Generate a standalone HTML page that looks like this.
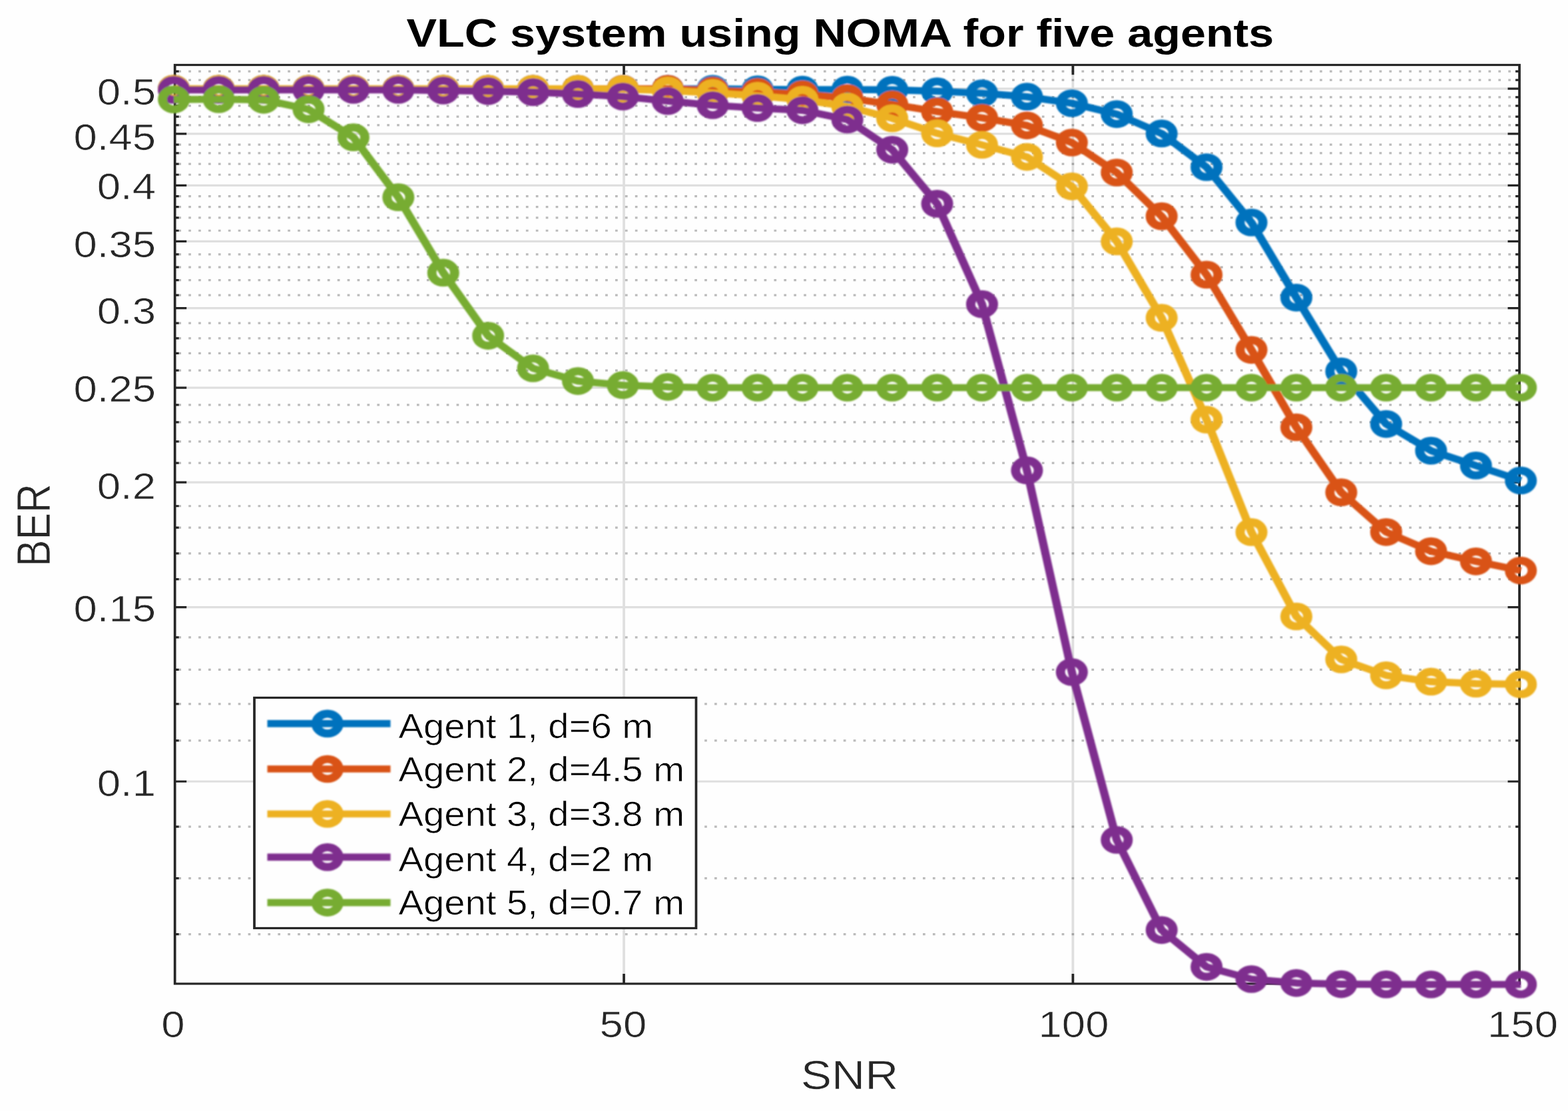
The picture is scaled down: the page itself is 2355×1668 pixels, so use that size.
<!DOCTYPE html>
<html lang="en"><head><meta charset="utf-8"><title>VLC system using NOMA for five agents</title>
<style>html,body{margin:0;padding:0;background:#fff;}body{width:2355px;height:1668px;overflow:hidden;}svg{display:block;}text{font-family:"Liberation Sans",Arial,Helvetica,sans-serif;}</style></head><body>
<svg width="2355" height="1668" viewBox="0 0 2355 1668">
<defs><filter id="b" x="0" y="0" width="2355" height="1668" filterUnits="userSpaceOnUse"><feGaussianBlur stdDeviation="1.0"/></filter></defs>
<rect width="2355" height="1668" fill="#fefefe"/>
<g transform="scale(3.7258 3.2305)">
<g stroke="#dfdfdf" stroke-width="1" fill="none">
<path d="M70.5 41.181H612.5"/>
<path d="M70.5 62.181H612.5"/>
<path d="M70.5 86.181H612.5"/>
<path d="M70.5 112.181H612.5"/>
<path d="M70.5 143.181H612.5"/>
<path d="M70.5 180.181H612.5"/>
<path d="M70.5 224.181H612.5"/>
<path d="M70.5 282.181H612.5"/>
<path d="M70.5 363.181H612.5"/>
<path d="M251.5 30.181V457.181"/>
<path d="M432.5 30.181V457.181"/>
</g>
<g stroke="#262626" stroke-opacity="0.31" stroke-width="1" stroke-dasharray="1 3" fill="none">
<path d="M72 33.181H610"/>
<path d="M72 37.181H610"/>
<path d="M72 45.181H610"/>
<path d="M72 49.181H610"/>
<path d="M72 54.181H610"/>
<path d="M72 58.181H610"/>
<path d="M72 67.181H610"/>
<path d="M72 71.181H610"/>
<path d="M72 76.181H610"/>
<path d="M72 81.181H610"/>
<path d="M72 91.181H610"/>
<path d="M72 96.181H610"/>
<path d="M72 101.181H610"/>
<path d="M72 107.181H610"/>
<path d="M72 118.181H610"/>
<path d="M72 124.181H610"/>
<path d="M72 130.181H610"/>
<path d="M72 137.181H610"/>
<path d="M72 150.181H610"/>
<path d="M72 157.181H610"/>
<path d="M72 164.181H610"/>
<path d="M72 172.181H610"/>
<path d="M72 188.181H610"/>
<path d="M72 196.181H610"/>
<path d="M72 205.181H610"/>
<path d="M72 215.181H610"/>
<path d="M72 235.181H610"/>
<path d="M72 245.181H610"/>
<path d="M72 257.181H610"/>
<path d="M72 269.181H610"/>
<path d="M72 296.181H610"/>
<path d="M72 311.181H610"/>
<path d="M72 327.181H610"/>
<path d="M72 344.181H610"/>
<path d="M72 384.181H610"/>
<path d="M72 408.181H610"/>
<path d="M72 434.181H610"/>
</g>
<g stroke="#262626" stroke-width="1" fill="none">
<path d="M70.5 33.181h1.6 M612.5 33.181h-1.6"/>
<path d="M70.5 37.181h1.6 M612.5 37.181h-1.6"/>
<path d="M70.5 41.181h4.7 M612.5 41.181h-4.7"/>
<path d="M70.5 45.181h1.6 M612.5 45.181h-1.6"/>
<path d="M70.5 49.181h1.6 M612.5 49.181h-1.6"/>
<path d="M70.5 54.181h1.6 M612.5 54.181h-1.6"/>
<path d="M70.5 58.181h1.6 M612.5 58.181h-1.6"/>
<path d="M70.5 62.181h4.7 M612.5 62.181h-4.7"/>
<path d="M70.5 67.181h1.6 M612.5 67.181h-1.6"/>
<path d="M70.5 71.181h1.6 M612.5 71.181h-1.6"/>
<path d="M70.5 76.181h1.6 M612.5 76.181h-1.6"/>
<path d="M70.5 81.181h1.6 M612.5 81.181h-1.6"/>
<path d="M70.5 86.181h4.7 M612.5 86.181h-4.7"/>
<path d="M70.5 91.181h1.6 M612.5 91.181h-1.6"/>
<path d="M70.5 96.181h1.6 M612.5 96.181h-1.6"/>
<path d="M70.5 101.181h1.6 M612.5 101.181h-1.6"/>
<path d="M70.5 107.181h1.6 M612.5 107.181h-1.6"/>
<path d="M70.5 112.181h4.7 M612.5 112.181h-4.7"/>
<path d="M70.5 118.181h1.6 M612.5 118.181h-1.6"/>
<path d="M70.5 124.181h1.6 M612.5 124.181h-1.6"/>
<path d="M70.5 130.181h1.6 M612.5 130.181h-1.6"/>
<path d="M70.5 137.181h1.6 M612.5 137.181h-1.6"/>
<path d="M70.5 143.181h4.7 M612.5 143.181h-4.7"/>
<path d="M70.5 150.181h1.6 M612.5 150.181h-1.6"/>
<path d="M70.5 157.181h1.6 M612.5 157.181h-1.6"/>
<path d="M70.5 164.181h1.6 M612.5 164.181h-1.6"/>
<path d="M70.5 172.181h1.6 M612.5 172.181h-1.6"/>
<path d="M70.5 180.181h4.7 M612.5 180.181h-4.7"/>
<path d="M70.5 188.181h1.6 M612.5 188.181h-1.6"/>
<path d="M70.5 196.181h1.6 M612.5 196.181h-1.6"/>
<path d="M70.5 205.181h1.6 M612.5 205.181h-1.6"/>
<path d="M70.5 215.181h1.6 M612.5 215.181h-1.6"/>
<path d="M70.5 224.181h4.7 M612.5 224.181h-4.7"/>
<path d="M70.5 235.181h1.6 M612.5 235.181h-1.6"/>
<path d="M70.5 245.181h1.6 M612.5 245.181h-1.6"/>
<path d="M70.5 257.181h1.6 M612.5 257.181h-1.6"/>
<path d="M70.5 269.181h1.6 M612.5 269.181h-1.6"/>
<path d="M70.5 282.181h4.7 M612.5 282.181h-4.7"/>
<path d="M70.5 296.181h1.6 M612.5 296.181h-1.6"/>
<path d="M70.5 311.181h1.6 M612.5 311.181h-1.6"/>
<path d="M70.5 327.181h1.6 M612.5 327.181h-1.6"/>
<path d="M70.5 344.181h1.6 M612.5 344.181h-1.6"/>
<path d="M70.5 363.181h4.7 M612.5 363.181h-4.7"/>
<path d="M70.5 384.181h1.6 M612.5 384.181h-1.6"/>
<path d="M70.5 408.181h1.6 M612.5 408.181h-1.6"/>
<path d="M70.5 434.181h1.6 M612.5 434.181h-1.6"/>
<path d="M251.5 457.181v-4.6 M251.5 30.181v4.6"/>
<path d="M432.5 457.181v-4.6 M432.5 30.181v4.6"/>
</g>
<rect x="70.5" y="30.181" width="542" height="427" fill="none" stroke="#262626" stroke-width="1"/>
</g><g filter="url(#b)"><g transform="scale(3.7258 3.2305)">
<g stroke="#0072BD" fill="none">
<polyline stroke-width="3.3" stroke-linejoin="round" points="70.079,41.263 88.179,41.263 106.279,41.263 124.379,41.263 142.479,41.263 160.579,41.263 178.679,41.263 196.779,41.263 214.879,41.263 232.979,41.263 251.079,41.263 269.179,41.263 287.279,41.263 305.379,41.48 323.479,41.634 341.579,41.634 359.679,41.727 377.779,42.408 395.879,43.337 413.979,44.947 432.079,47.98 450.179,53.026 468.279,62.034 486.379,77.697 504.479,103.39 522.579,138.307 540.679,172.605 558.779,197.059 576.879,209.472 594.979,216.344 613.079,223.309"/>
<g stroke-width="3.7">
<circle cx="70.079" cy="41.263" r="4.6"/>
<circle cx="88.179" cy="41.263" r="4.6"/>
<circle cx="106.279" cy="41.263" r="4.6"/>
<circle cx="124.379" cy="41.263" r="4.6"/>
<circle cx="142.479" cy="41.263" r="4.6"/>
<circle cx="160.579" cy="41.263" r="4.6"/>
<circle cx="178.679" cy="41.263" r="4.6"/>
<circle cx="196.779" cy="41.263" r="4.6"/>
<circle cx="214.879" cy="41.263" r="4.6"/>
<circle cx="232.979" cy="41.263" r="4.6"/>
<circle cx="251.079" cy="41.263" r="4.6"/>
<circle cx="269.179" cy="41.263" r="4.6"/>
<circle cx="287.279" cy="41.263" r="4.6"/>
<circle cx="305.379" cy="41.48" r="4.6"/>
<circle cx="323.479" cy="41.634" r="4.6"/>
<circle cx="341.579" cy="41.634" r="4.6"/>
<circle cx="359.679" cy="41.727" r="4.6"/>
<circle cx="377.779" cy="42.408" r="4.6"/>
<circle cx="395.879" cy="43.337" r="4.6"/>
<circle cx="413.979" cy="44.947" r="4.6"/>
<circle cx="432.079" cy="47.98" r="4.6"/>
<circle cx="450.179" cy="53.026" r="4.6"/>
<circle cx="468.279" cy="62.034" r="4.6"/>
<circle cx="486.379" cy="77.697" r="4.6"/>
<circle cx="504.479" cy="103.39" r="4.6"/>
<circle cx="522.579" cy="138.307" r="4.6"/>
<circle cx="540.679" cy="172.605" r="4.6"/>
<circle cx="558.779" cy="197.059" r="4.6"/>
<circle cx="576.879" cy="209.472" r="4.6"/>
<circle cx="594.979" cy="216.344" r="4.6"/>
<circle cx="613.079" cy="223.309" r="4.6"/>
</g></g>
<g stroke="#D95319" fill="none">
<polyline stroke-width="3.3" stroke-linejoin="round" points="70.079,41.263 88.179,41.263 106.279,41.263 124.379,41.263 142.479,41.263 160.579,41.263 178.679,41.263 196.779,41.263 214.879,41.263 232.979,41.263 251.079,41.263 269.179,41.263 287.279,42.099 305.379,42.718 323.479,43.801 341.579,45.597 359.679,48.537 377.779,51.819 395.879,54.79 413.979,58.288 432.079,66.244 450.179,80.173 468.279,100.511 486.379,127.658 504.479,162.606 522.579,198.576 540.679,228.819 558.779,247.268 576.879,256.183 594.979,260.888 613.079,265.16"/>
<g stroke-width="3.7">
<circle cx="70.079" cy="41.263" r="4.6"/>
<circle cx="88.179" cy="41.263" r="4.6"/>
<circle cx="106.279" cy="41.263" r="4.6"/>
<circle cx="124.379" cy="41.263" r="4.6"/>
<circle cx="142.479" cy="41.263" r="4.6"/>
<circle cx="160.579" cy="41.263" r="4.6"/>
<circle cx="178.679" cy="41.263" r="4.6"/>
<circle cx="196.779" cy="41.263" r="4.6"/>
<circle cx="214.879" cy="41.263" r="4.6"/>
<circle cx="232.979" cy="41.263" r="4.6"/>
<circle cx="251.079" cy="41.263" r="4.6"/>
<circle cx="269.179" cy="41.263" r="4.6"/>
<circle cx="287.279" cy="42.099" r="4.6"/>
<circle cx="305.379" cy="42.718" r="4.6"/>
<circle cx="323.479" cy="43.801" r="4.6"/>
<circle cx="341.579" cy="45.597" r="4.6"/>
<circle cx="359.679" cy="48.537" r="4.6"/>
<circle cx="377.779" cy="51.819" r="4.6"/>
<circle cx="395.879" cy="54.79" r="4.6"/>
<circle cx="413.979" cy="58.288" r="4.6"/>
<circle cx="432.079" cy="66.244" r="4.6"/>
<circle cx="450.179" cy="80.173" r="4.6"/>
<circle cx="468.279" cy="100.511" r="4.6"/>
<circle cx="486.379" cy="127.658" r="4.6"/>
<circle cx="504.479" cy="162.606" r="4.6"/>
<circle cx="522.579" cy="198.576" r="4.6"/>
<circle cx="540.679" cy="228.819" r="4.6"/>
<circle cx="558.779" cy="247.268" r="4.6"/>
<circle cx="576.879" cy="256.183" r="4.6"/>
<circle cx="594.979" cy="260.888" r="4.6"/>
<circle cx="613.079" cy="265.16" r="4.6"/>
</g></g>
<g stroke="#EDB120" fill="none">
<polyline stroke-width="3.3" stroke-linejoin="round" points="70.079,41.263 88.179,41.263 106.279,41.263 124.379,41.263 142.479,41.263 160.579,41.263 178.679,41.263 196.779,41.263 214.879,41.263 232.979,41.294 251.079,41.449 269.179,42.037 287.279,43.182 305.379,44.513 323.479,46.371 341.579,49.528 359.679,55.007 377.779,61.972 395.879,67.327 413.979,72.93 432.079,86.612 450.179,112.181 468.279,147.717 486.379,195.016 504.479,247.299 522.579,286.488 540.679,306.454 558.779,313.852 576.879,316.793 594.979,317.722 613.079,318.031"/>
<g stroke-width="3.7">
<circle cx="70.079" cy="41.263" r="4.6"/>
<circle cx="88.179" cy="41.263" r="4.6"/>
<circle cx="106.279" cy="41.263" r="4.6"/>
<circle cx="124.379" cy="41.263" r="4.6"/>
<circle cx="142.479" cy="41.263" r="4.6"/>
<circle cx="160.579" cy="41.263" r="4.6"/>
<circle cx="178.679" cy="41.263" r="4.6"/>
<circle cx="196.779" cy="41.263" r="4.6"/>
<circle cx="214.879" cy="41.263" r="4.6"/>
<circle cx="232.979" cy="41.294" r="4.6"/>
<circle cx="251.079" cy="41.449" r="4.6"/>
<circle cx="269.179" cy="42.037" r="4.6"/>
<circle cx="287.279" cy="43.182" r="4.6"/>
<circle cx="305.379" cy="44.513" r="4.6"/>
<circle cx="323.479" cy="46.371" r="4.6"/>
<circle cx="341.579" cy="49.528" r="4.6"/>
<circle cx="359.679" cy="55.007" r="4.6"/>
<circle cx="377.779" cy="61.972" r="4.6"/>
<circle cx="395.879" cy="67.327" r="4.6"/>
<circle cx="413.979" cy="72.93" r="4.6"/>
<circle cx="432.079" cy="86.612" r="4.6"/>
<circle cx="450.179" cy="112.181" r="4.6"/>
<circle cx="468.279" cy="147.717" r="4.6"/>
<circle cx="486.379" cy="195.016" r="4.6"/>
<circle cx="504.479" cy="247.299" r="4.6"/>
<circle cx="522.579" cy="286.488" r="4.6"/>
<circle cx="540.679" cy="306.454" r="4.6"/>
<circle cx="558.779" cy="313.852" r="4.6"/>
<circle cx="576.879" cy="316.793" r="4.6"/>
<circle cx="594.979" cy="317.722" r="4.6"/>
<circle cx="613.079" cy="318.031" r="4.6"/>
</g></g>
<g stroke="#7E2F8E" fill="none">
<polyline stroke-width="3.3" stroke-linejoin="round" points="70.079,41.789 88.179,41.789 106.279,41.789 124.379,41.789 142.479,41.789 160.579,41.789 178.679,42.068 196.779,42.346 214.879,42.842 232.979,43.708 251.079,44.885 269.179,46.959 287.279,48.909 305.379,50.209 323.479,51.261 341.579,55.564 359.679,69.587 377.779,94.691 395.879,141.371 413.979,218.604 432.079,312.336 450.179,390.342 468.279,432.224 486.379,449.342 504.479,455.038 522.579,456.833 540.679,457.39 558.779,457.483 576.879,457.514 594.979,457.514 613.079,457.514"/>
<g stroke-width="3.7">
<circle cx="70.079" cy="41.789" r="4.6"/>
<circle cx="88.179" cy="41.789" r="4.6"/>
<circle cx="106.279" cy="41.789" r="4.6"/>
<circle cx="124.379" cy="41.789" r="4.6"/>
<circle cx="142.479" cy="41.789" r="4.6"/>
<circle cx="160.579" cy="41.789" r="4.6"/>
<circle cx="178.679" cy="42.068" r="4.6"/>
<circle cx="196.779" cy="42.346" r="4.6"/>
<circle cx="214.879" cy="42.842" r="4.6"/>
<circle cx="232.979" cy="43.708" r="4.6"/>
<circle cx="251.079" cy="44.885" r="4.6"/>
<circle cx="269.179" cy="46.959" r="4.6"/>
<circle cx="287.279" cy="48.909" r="4.6"/>
<circle cx="305.379" cy="50.209" r="4.6"/>
<circle cx="323.479" cy="51.261" r="4.6"/>
<circle cx="341.579" cy="55.564" r="4.6"/>
<circle cx="359.679" cy="69.587" r="4.6"/>
<circle cx="377.779" cy="94.691" r="4.6"/>
<circle cx="395.879" cy="141.371" r="4.6"/>
<circle cx="413.979" cy="218.604" r="4.6"/>
<circle cx="432.079" cy="312.336" r="4.6"/>
<circle cx="450.179" cy="390.342" r="4.6"/>
<circle cx="468.279" cy="432.224" r="4.6"/>
<circle cx="486.379" cy="449.342" r="4.6"/>
<circle cx="504.479" cy="455.038" r="4.6"/>
<circle cx="522.579" cy="456.833" r="4.6"/>
<circle cx="540.679" cy="457.39" r="4.6"/>
<circle cx="558.779" cy="457.483" r="4.6"/>
<circle cx="576.879" cy="457.514" r="4.6"/>
<circle cx="594.979" cy="457.514" r="4.6"/>
<circle cx="613.079" cy="457.514" r="4.6"/>
</g></g>
<g stroke="#77AC30" fill="none">
<polyline stroke-width="3.3" stroke-linejoin="round" points="70.079,46.216 88.179,46.123 106.279,46.371 124.379,50.797 142.479,63.829 160.579,91.689 178.679,126.73 196.779,156.044 214.879,171.181 232.979,177.093 251.079,178.982 269.179,179.786 287.279,180.158 305.379,180.158 323.479,180.158 341.579,180.158 359.679,180.158 377.779,180.158 395.879,180.158 413.979,180.158 432.079,180.158 450.179,180.158 468.279,180.158 486.379,180.158 504.479,180.158 522.579,180.158 540.679,180.158 558.779,180.158 576.879,180.158 594.979,180.158 613.079,180.158"/>
<g stroke-width="3.7">
<circle cx="70.079" cy="46.216" r="4.6"/>
<circle cx="88.179" cy="46.123" r="4.6"/>
<circle cx="106.279" cy="46.371" r="4.6"/>
<circle cx="124.379" cy="50.797" r="4.6"/>
<circle cx="142.479" cy="63.829" r="4.6"/>
<circle cx="160.579" cy="91.689" r="4.6"/>
<circle cx="178.679" cy="126.73" r="4.6"/>
<circle cx="196.779" cy="156.044" r="4.6"/>
<circle cx="214.879" cy="171.181" r="4.6"/>
<circle cx="232.979" cy="177.093" r="4.6"/>
<circle cx="251.079" cy="178.982" r="4.6"/>
<circle cx="269.179" cy="179.786" r="4.6"/>
<circle cx="287.279" cy="180.158" r="4.6"/>
<circle cx="305.379" cy="180.158" r="4.6"/>
<circle cx="323.479" cy="180.158" r="4.6"/>
<circle cx="341.579" cy="180.158" r="4.6"/>
<circle cx="359.679" cy="180.158" r="4.6"/>
<circle cx="377.779" cy="180.158" r="4.6"/>
<circle cx="395.879" cy="180.158" r="4.6"/>
<circle cx="413.979" cy="180.158" r="4.6"/>
<circle cx="432.079" cy="180.158" r="4.6"/>
<circle cx="450.179" cy="180.158" r="4.6"/>
<circle cx="468.279" cy="180.158" r="4.6"/>
<circle cx="486.379" cy="180.158" r="4.6"/>
<circle cx="504.479" cy="180.158" r="4.6"/>
<circle cx="522.579" cy="180.158" r="4.6"/>
<circle cx="540.679" cy="180.158" r="4.6"/>
<circle cx="558.779" cy="180.158" r="4.6"/>
<circle cx="576.879" cy="180.158" r="4.6"/>
<circle cx="594.979" cy="180.158" r="4.6"/>
<circle cx="613.079" cy="180.158" r="4.6"/>
</g></g>
</g></g><g transform="scale(3.7258 3.2305)">
<rect x="102.528" y="324.253" width="178.083" height="107.104" fill="#fefefe" stroke="#262626" stroke-width="1"/>
</g><g filter="url(#b)"><g transform="scale(3.7258 3.2305)">
<path d="M107.762 336.295H157.416" stroke="#0072BD" stroke-width="3.3"/>
<circle cx="131.998" cy="336.295" r="4.6" fill="none" stroke="#0072BD" stroke-width="3.7"/>
<path d="M107.762 357.375H157.416" stroke="#D95319" stroke-width="3.3"/>
<circle cx="131.998" cy="357.375" r="4.6" fill="none" stroke="#D95319" stroke-width="3.7"/>
<path d="M107.762 378.27H157.416" stroke="#EDB120" stroke-width="3.3"/>
<circle cx="131.998" cy="378.27" r="4.6" fill="none" stroke="#EDB120" stroke-width="3.7"/>
<path d="M107.762 398.359H157.416" stroke="#7E2F8E" stroke-width="3.3"/>
<circle cx="131.998" cy="398.359" r="4.6" fill="none" stroke="#7E2F8E" stroke-width="3.7"/>
<path d="M107.762 419.471H157.416" stroke="#77AC30" stroke-width="3.3"/>
<circle cx="131.998" cy="419.471" r="4.6" fill="none" stroke="#77AC30" stroke-width="3.7"/>
</g></g><g transform="scale(3.7258 3.2305)">
<text transform="translate(62.805 48.63) scale(1.022 1.015)" font-size="16.67" text-anchor="end" fill="#262626" stroke="#fefefe" stroke-width="0.2" stroke-linejoin="round">0.5</text>
<text transform="translate(62.805 69.618) scale(1.022 1.015)" font-size="16.67" text-anchor="end" fill="#262626" stroke="#fefefe" stroke-width="0.2" stroke-linejoin="round">0.45</text>
<text transform="translate(62.805 92.648) scale(1.022 1.015)" font-size="16.67" text-anchor="end" fill="#262626" stroke="#fefefe" stroke-width="0.2" stroke-linejoin="round">0.4</text>
<text transform="translate(62.805 119.579) scale(1.022 1.015)" font-size="16.67" text-anchor="end" fill="#262626" stroke="#fefefe" stroke-width="0.2" stroke-linejoin="round">0.35</text>
<text transform="translate(62.805 150.534) scale(1.022 1.015)" font-size="16.67" text-anchor="end" fill="#262626" stroke="#fefefe" stroke-width="0.2" stroke-linejoin="round">0.3</text>
<text transform="translate(62.805 186.597) scale(1.022 1.015)" font-size="16.67" text-anchor="end" fill="#262626" stroke="#fefefe" stroke-width="0.2" stroke-linejoin="round">0.25</text>
<text transform="translate(62.805 231.698) scale(1.022 1.015)" font-size="16.67" text-anchor="end" fill="#262626" stroke="#fefefe" stroke-width="0.2" stroke-linejoin="round">0.2</text>
<text transform="translate(62.805 288.686) scale(1.022 1.015)" font-size="16.67" text-anchor="end" fill="#262626" stroke="#fefefe" stroke-width="0.2" stroke-linejoin="round">0.15</text>
<text transform="translate(62.805 369.757) scale(1.022 1.015)" font-size="16.67" text-anchor="end" fill="#262626" stroke="#fefefe" stroke-width="0.2" stroke-linejoin="round">0.1</text>
<text transform="translate(69.73 482.062) scale(1.022 1.015)" font-size="16.67" text-anchor="middle" fill="#262626" stroke="#fefefe" stroke-width="0.2" stroke-linejoin="round">0</text>
<text transform="translate(251.194 482.062) scale(1.022 1.015)" font-size="16.67" text-anchor="middle" fill="#262626" stroke="#fefefe" stroke-width="0.2" stroke-linejoin="round">50</text>
<text transform="translate(432.793 482.062) scale(1.022 1.015)" font-size="16.67" text-anchor="middle" fill="#262626" stroke="#fefefe" stroke-width="0.2" stroke-linejoin="round">100</text>
<text transform="translate(613.828 482.062) scale(1.022 1.015)" font-size="16.67" text-anchor="middle" fill="#262626" stroke="#fefefe" stroke-width="0.2" stroke-linejoin="round">150</text>
<text transform="translate(342.477 506.268) scale(1.016 1.045)" font-size="18.33" text-anchor="middle" fill="#262626" stroke="#fefefe" stroke-width="0.2" stroke-linejoin="round">SNR</text>
<text transform="translate(20.157 244.08) scale(0.268 0.31) rotate(-90) scale(3.231 3.726) scale(1.021 1.02)" font-size="18.33" text-anchor="middle" fill="#262626" stroke="#fefefe" stroke-width="0.2" stroke-linejoin="round">BER</text>
<text transform="translate(338.706 21.576) scale(1 1.005)" font-size="18.33" text-anchor="middle" font-weight="bold" fill="#000">VLC system using NOMA for five agents</text>
<text transform="translate(160.61 342.935) scale(1.006 1.06)" font-size="15" fill="#000" stroke="#fefefe" stroke-width="0.2" stroke-linejoin="round">Agent 1, d=6 m</text>
<text transform="translate(160.61 363.055) scale(1.006 1.06)" font-size="15" fill="#000" stroke="#fefefe" stroke-width="0.2" stroke-linejoin="round">Agent 2, d=4.5 m</text>
<text transform="translate(160.61 383.95) scale(1.006 1.06)" font-size="15" fill="#000" stroke="#fefefe" stroke-width="0.2" stroke-linejoin="round">Agent 3, d=3.8 m</text>
<text transform="translate(160.61 404.922) scale(1.006 1.06)" font-size="15" fill="#000" stroke="#fefefe" stroke-width="0.2" stroke-linejoin="round">Agent 4, d=2 m</text>
<text transform="translate(160.61 424.872) scale(1.006 1.06)" font-size="15" fill="#000" stroke="#fefefe" stroke-width="0.2" stroke-linejoin="round">Agent 5, d=0.7 m</text>
</g></svg></body></html>
